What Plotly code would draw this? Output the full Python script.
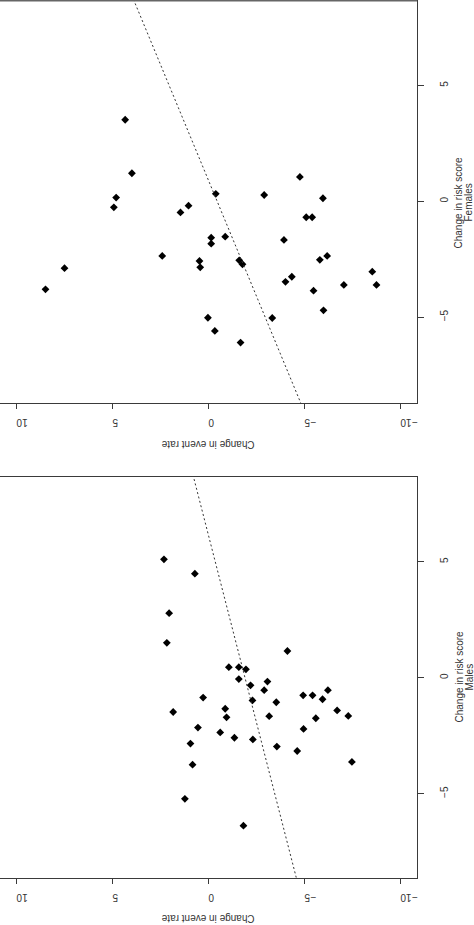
import plotly.graph_objects as go

# ---------------- data ----------------
females_risk = [3.52, 1.21, 0.16, -0.26, -0.19, -0.48, 0.32, -1.57, -1.83, -1.53,
                -2.36, -2.58, -2.85, -2.89, -3.80, -2.55, -2.72, 0.27, 1.05, 0.13,
                -0.69, -0.69, -1.67, -2.53, -2.36, -3.26, -3.48, -3.86, -3.61, -3.04,
                -3.61, -4.71, -5.03, -5.04, -5.60, -6.10]
females_event = [4.34, 3.99, 4.81, 4.93, 1.04, 1.46, -0.38, -0.14, -0.14, -0.87,
                 2.41, 0.47, 0.43, 7.50, 8.49, -1.60, -1.77, -2.90, -4.76, -5.96,
                 -5.09, -5.40, -3.93, -5.80, -6.18, -4.34, -4.01, -5.47, -7.05, -8.53,
                 -8.75, -5.99, 0.03, -3.32, -0.33, -1.67]

males_risk = [5.10, 4.48, 2.78, 1.50, 1.15, 0.45, 0.45, 0.36, -0.06, -0.17,
              -0.33, -0.54, -0.86, -0.98, -1.06, -0.76, -0.76, -0.93, -0.54, -1.34,
              -1.71, -1.48, -1.66, -1.41, -1.65, -1.75, -2.15, -2.21, -2.36, -2.59,
              -2.66, -2.84, -2.97, -3.16, -3.75, -3.63, -5.22, -6.38]
males_event = [2.32, 0.71, 2.05, 2.17, -4.11, -1.06, -1.58, -1.95, -1.58, -3.07,
               -2.19, -2.90, 0.28, -2.29, -3.53, -4.93, -5.42, -5.94, -6.22, -0.87,
               -0.94, 1.84, -3.16, -6.70, -7.28, -5.59, 0.55, -4.95, -0.61, -1.35,
               -2.31, 0.94, -3.56, -4.62, 0.83, -7.47, 1.23, -1.82]

# fitted line: [intercept, slope] of event rate on risk score
females_fit = [-0.45, 0.50]
males_fit = [-1.90, 0.31]

event_ticks = [10, 5, 0, -5, -10]
risk_ticks = [-5, 0, 5]
event_title = "Change in event rate"
risk_title = "Change in risk score"
panel_names = ["Females", "Males"]

# ---------------- figure ----------------
W, H = 474, 925
FONT = "Liberation Sans, Arial, Helvetica, sans-serif"
TXT = "#333333"
AX = "#3a3a3a"

fig = go.Figure()


def add_panel(risk, event, fit, xa, ya):
    fig.add_trace(go.Scatter(
        x=event, y=risk, mode="markers", xaxis=xa, yaxis=ya,
        marker=dict(symbol="diamond", size=6, color="black", line=dict(width=0)),
        showlegend=False, hoverinfo="skip"))
    r = [-12, 12]
    fig.add_trace(go.Scatter(
        x=[fit[0] + fit[1] * v for v in r], y=r, mode="lines", xaxis=xa, yaxis=ya,
        line=dict(color="#333333", width=1, dash="2px,2.5px"),
        showlegend=False, hoverinfo="skip"))


add_panel(females_risk, females_event, females_fit, "x", "y")
add_panel(males_risk, males_event, males_fit, "x2", "y2")

xdom = [0, 417 / W]
top_dom = [1 - 403 / H, 1]
bot_dom = [1 - 877.7 / H, 1 - 476.7 / H]

xcommon = dict(
    range=[10.86, -10.86], tickvals=event_ticks, ticktext=[str(v).replace("-", "\u2212") for v in event_ticks],
    tickangle=180, ticks="outside", ticklen=5, tickcolor=AX, tickwidth=1, ticklabelstandoff=8,
    showline=True, linecolor=AX, linewidth=1, showgrid=False, zeroline=False,
    tickfont=dict(family=FONT, size=10, color=TXT), automargin=False, fixedrange=True,
)
ycommon = dict(
    side="right", tickvals=risk_ticks, ticktext=[str(v).replace("-", "\u2212") for v in risk_ticks],
    tickangle=-90, ticks="outside", ticklen=6, tickcolor=AX, tickwidth=1, ticklabelstandoff=12,
    showline=True, linecolor=AX, linewidth=1, showgrid=False, zeroline=False,
    tickfont=dict(family=FONT, size=10, color=TXT), automargin=False, fixedrange=True,
)

fig.update_layout(
    width=W, height=H, margin=dict(l=0, r=0, t=0, b=0),
    paper_bgcolor="white", plot_bgcolor="white",
    xaxis=dict(domain=xdom, anchor="y", **xcommon),
    yaxis=dict(domain=top_dom, anchor="x", range=[-8.71, 8.69], **ycommon),
    xaxis2=dict(domain=xdom, anchor="y2", mirror=True, **xcommon),
    yaxis2=dict(domain=bot_dom, anchor="x2", range=[-8.62, 8.66], **ycommon),
)

# top edge of the upper box (cropped in the original)
fig.add_shape(type="line", xref="paper", yref="paper", x0=0, x1=417 / W, y0=1, y1=1,
              line=dict(color="#666666", width=3))

ann_font = dict(family=FONT, size=10, color=TXT)
# event-rate titles (upside down)
for ypix in (445, 919):
    fig.add_annotation(x=208.3 / W, y=1 - ypix / H, xref="paper", yref="paper",
                       text=event_title, textangle=180, showarrow=False, font=ann_font,
                       xanchor="center", yanchor="middle")
# risk-score titles + panel names (rotated)
for ypix, name in ((203, panel_names[0]), (677, panel_names[1])):
    fig.add_annotation(x=458.5 / W, y=1 - ypix / H, xref="paper", yref="paper",
                       text=risk_title, textangle=-90, showarrow=False, font=ann_font,
                       xanchor="center", yanchor="middle")
    fig.add_annotation(x=468.5 / W, y=1 - ypix / H, xref="paper", yref="paper",
                       text=name, textangle=-90, showarrow=False, font=ann_font,
                       xanchor="center", yanchor="middle")

fig.write_html("out.html", config={"displayModeBar": False},
               post_script="document.body.style.margin='0';document.body.style.overflow='hidden';")
